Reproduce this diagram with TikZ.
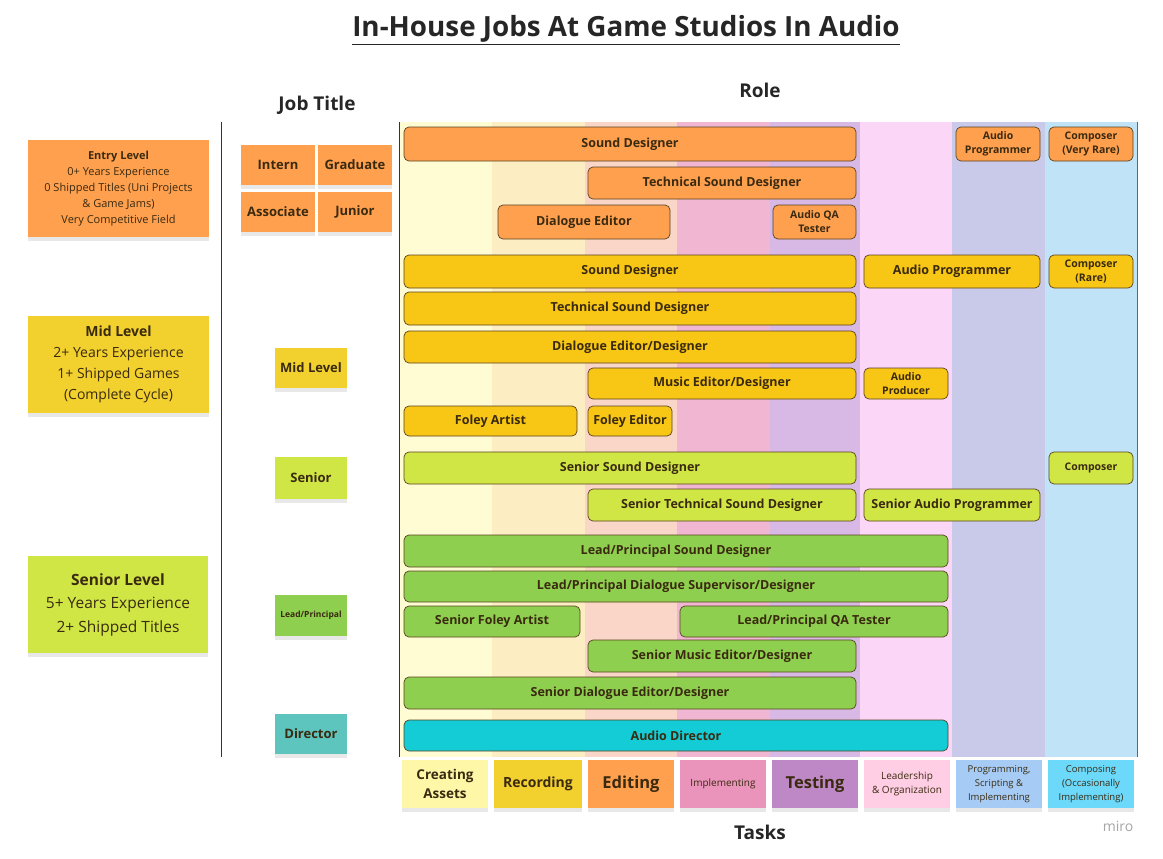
\documentclass[tikz,border=0pt]{standalone}
\usepackage{fontspec}
\setmainfont{Open Sans}
\usetikzlibrary{shadows}
\definecolor{ornF}{HTML}{FFA04F}
\definecolor{ylwF}{HTML}{F8C614}
\definecolor{midS}{HTML}{F2D12E}
\definecolor{limF}{HTML}{D0E645}
\definecolor{grnF}{HTML}{8ECF4F}
\definecolor{tealF}{HTML}{14CCD6}
\definecolor{dirS}{HTML}{5EC4BE}
\definecolor{edge}{HTML}{5A4320}
\definecolor{txt}{HTML}{3A2A10}
\definecolor{tst}{HTML}{BE88C7}
\definecolor{ldr}{HTML}{FFCEE4}
\definecolor{prg}{HTML}{A6CCF5}
\definecolor{cmp}{HTML}{6CD8FA}
\definecolor{imp}{HTML}{EA94BB}
\definecolor{crt}{HTML}{FFF7A8}
\newcommand\bx[7]{\node[#1, minimum width={(#5-#3)*1pt}, minimum height={(#6-#4)*1pt}] (#2) at ({(#3+#5)/2},{(#4+#6)/2}) {#7};}
\begin{document}
\begin{tikzpicture}[x=1pt,y=-1pt,
  sticky/.style={inner sep=0pt, align=center, text=txt, font=\bfseries\fontsize{13}{15}\selectfont, drop shadow={opacity=0.18,shadow xshift=0pt,shadow yshift=-4pt}},
  role/.style={draw=edge, line width=0.7pt, rounded corners=5pt, inner sep=0pt, align=center, text=txt, font=\bfseries\fontsize{12.5}{14}\selectfont},
  small/.style={font=\bfseries\fontsize{10.5}{14}\selectfont},
  heading/.style={font=\bfseries\fontsize{19}{22}\selectfont, text=black!85}]
\useasboundingbox (0,0) rectangle (1163,859);
\fill[white] (0,0) rectangle (1163,859);
% column backgrounds
\foreach \a/\b/\c in {400/492/FFFBD2,492/585/FCEEC2,585/677/F9D6C8,677/770/F0B6D2,770/860/D8B8E4,860/952/FBD6F6,952/1045/C9C9E9,1045/1137/C0E3F7}{
  \definecolor{bgc}{HTML}{\c}\fill[bgc] (\a,122) rectangle (\b,757);}
\draw[black!80, line width=0.8pt] (221,122) -- (221,757);
\draw[black!80, line width=0.8pt] (399,122) -- (399,757);
\draw[black!60, line width=0.8pt] (1137,122) -- (1137,757);
% titles
\node[font=\bfseries\fontsize{27.8}{30}\selectfont, text=black!85] (title) at (626,30) {\underline{In-House Jobs At Game Studios In Audio}};
\node[heading] (jt) at (317,105) {Job Title};
\node[heading] (rl) at (760,90) {Role};
\node[heading] (tk) at (760,832) {Tasks};
\node[font=\fontsize{14}{16}\selectfont, text=black!35] (miro) at (1118,826) {miro};
% levels
\bx{sticky,fill=ornF,font=\fontsize{11}{16}\selectfont}{entry}{28}{140}{209}{237}{\textbf{Entry Level}\\0+ Years Experience\\0 Shipped Titles (Uni Projects\\\& Game Jams)\\Very Competitive Field}
\bx{sticky,fill=midS,font=\fontsize{14}{21}\selectfont}{mid}{28}{316}{209}{413}{\textbf{Mid Level}\\2+ Years Experience\\1+ Shipped Games\\(Complete Cycle)}
\bx{sticky,fill=limF,font=\fontsize{15.5}{23.5}\selectfont}{sen}{28}{556}{208}{653}{\textbf{Senior Level}\\5+ Years Experience\\2+ Shipped Titles}
% job titles
\bx{sticky,fill=ornF}{intern}{241}{145}{315}{185}{Intern}
\bx{sticky,fill=ornF}{grad}{318}{145}{392}{185}{Graduate}
\bx{sticky,fill=ornF}{assoc}{241}{192}{315}{232}{Associate}
\bx{sticky,fill=ornF}{junior}{318}{192}{392}{232}{Junior}
\bx{sticky,fill=midS}{jmid}{275}{348}{347}{388}{Mid Level}
\bx{sticky,fill=limF}{jsen}{275}{457}{347}{499}{Senior}
\bx{sticky,fill=grnF,font=\bfseries\fontsize{8.5}{10}\selectfont}{jlead}{275}{595}{347}{636}{Lead/Principal}
\bx{sticky,fill=dirS}{jdir}{275}{714}{347}{754}{Director}
% entry roles
\bx{role,fill=ornF}{e1}{404}{127}{856}{161}{Sound Designer}
\bx{role,fill=ornF,small}{e2}{956}{127}{1040}{161}{Audio\\Programmer}
\bx{role,fill=ornF,small}{e3}{1049}{127}{1133}{161}{Composer\\(Very Rare)}
\bx{role,fill=ornF}{e4}{588}{167}{856}{199}{Technical Sound Designer}
\bx{role,fill=ornF}{e5}{498}{205}{670}{239}{Dialogue Editor}
\bx{role,fill=ornF,small}{e6}{773}{205}{856}{239}{Audio QA\\Tester}
% mid roles
\bx{role,fill=ylwF}{m1}{404}{255}{856}{288}{Sound Designer}
\bx{role,fill=ylwF}{m2}{864}{255}{1040}{288}{Audio Programmer}
\bx{role,fill=ylwF,small}{m3}{1049}{255}{1133}{288}{Composer\\(Rare)}
\bx{role,fill=ylwF}{m4}{404}{292}{856}{325}{Technical Sound Designer}
\bx{role,fill=ylwF}{m5}{404}{331}{856}{363}{Dialogue Editor/Designer}
\bx{role,fill=ylwF}{m6}{588}{368}{856}{399}{Music Editor/Designer}
\bx{role,fill=ylwF,small}{m7}{864}{368}{948}{399}{Audio\\Producer}
\bx{role,fill=ylwF}{m8}{404}{406}{577}{436}{Foley Artist}
\bx{role,fill=ylwF}{m9}{588}{406}{672}{436}{Foley Editor}
% senior roles
\bx{role,fill=limF}{s1}{404}{452}{856}{484}{Senior Sound Designer}
\bx{role,fill=limF,small}{s2}{1049}{452}{1133}{484}{Composer}
\bx{role,fill=limF}{s3}{588}{489}{856}{521}{Senior Technical Sound Designer}
\bx{role,fill=limF}{s4}{864}{489}{1040}{521}{Senior Audio Programmer}
% lead roles
\bx{role,fill=grnF}{l1}{404}{535}{948}{567}{Lead/Principal Sound Designer}
\bx{role,fill=grnF}{l2}{404}{571}{948}{602}{Lead/Principal Dialogue Supervisor/Designer}
\bx{role,fill=grnF}{l3}{404}{606}{580}{637}{Senior Foley Artist}
\bx{role,fill=grnF}{l4}{680}{606}{948}{637}{Lead/Principal QA Tester}
\bx{role,fill=grnF}{l5}{588}{640}{856}{672}{Senior Music Editor/Designer}
\bx{role,fill=grnF}{l6}{404}{677}{856}{709}{Senior Dialogue Editor/Designer}
\bx{role,fill=tealF}{d1}{404}{720}{948}{751}{Audio Director}
% tasks
\bx{sticky,fill=crt,font=\bfseries\fontsize{13.5}{19}\selectfont}{t1}{402}{760}{488}{808}{Creating\\Assets}
\bx{sticky,fill=midS,font=\bfseries\fontsize{14}{18}\selectfont}{t2}{494}{760}{582}{808}{Recording}
\bx{sticky,fill=ornF,font=\bfseries\fontsize{16.5}{20}\selectfont}{t3}{588}{760}{674}{808}{Editing}
\bx{sticky,fill=imp,font=\fontsize{10}{12}\selectfont}{t4}{680}{760}{766}{808}{Implementing}
\bx{sticky,fill=tst,font=\bfseries\fontsize{16.5}{20}\selectfont}{t5}{772}{760}{858}{808}{Testing}
\bx{sticky,fill=ldr,font=\fontsize{10}{14}\selectfont}{t6}{864}{760}{950}{808}{Leadership\\\& Organization}
\bx{sticky,fill=prg,font=\fontsize{9.5}{14}\selectfont}{t7}{956}{760}{1042}{808}{Programming,\\Scripting \&\\Implementing}
\bx{sticky,fill=cmp,font=\fontsize{9.5}{14}\selectfont}{t8}{1048}{760}{1134}{808}{Composing\\(Occasionally\\Implementing)}
\end{tikzpicture}
\end{document}
